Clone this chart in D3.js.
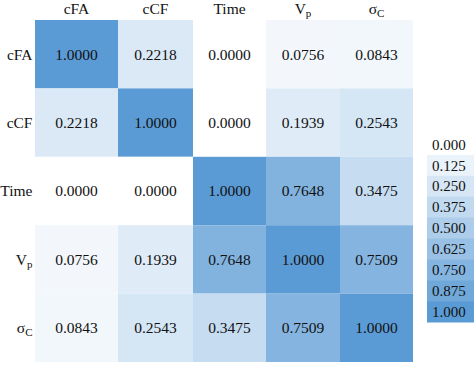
<!DOCTYPE html>
<html>
<head>
<meta charset="UTF-8">
<script src="https://d3js.org/d3.v7.min.js"></script>
<style>
    body { margin: 0; background: #fff; }
</style>
</head>
<body>
<svg id="chart" width="474" height="366" font-family="'Liberation Serif', 'Times New Roman', Times, serif"></svg>
<script>
    // variables and correlation matrix
    const vars = ["cFA", "cCF", "Time", "Vp", "sC"];
    const labelMain = { cFA: "cFA", cCF: "cCF", Time: "Time", Vp: "V", sC: "σ" };
    const labelSub = { cFA: "", cCF: "", Time: "", Vp: "p", sC: "C" };
    const matrix = [
        [1.0000, 0.2218, 0.0000, 0.0756, 0.0843],
        [0.2218, 1.0000, 0.0000, 0.1939, 0.2543],
        [0.0000, 0.0000, 1.0000, 0.7648, 0.3475],
        [0.0756, 0.1939, 0.7648, 1.0000, 0.7509],
        [0.0843, 0.2543, 0.3475, 0.7509, 1.0000]
    ];
    const legendSteps = [0, 0.125, 0.25, 0.375, 0.5, 0.625, 0.75, 0.875, 1.0];

    const svg = d3.select("#chart");

    // column edges are not quite equal in the original (first column wider)
    const colEdges = [35, 118, 193, 266, 340, 413];
    const xStart = d3.scaleOrdinal().domain(vars).range(colEdges.slice(0, 5));
    const xEnd = d3.scaleOrdinal().domain(vars).range(colEdges.slice(1));
    const y = d3.scaleBand().domain(vars).range([20, 362]);

    const color = d3.scaleLinear().domain([0, 1]).range(["#ffffff", "#5b9bd5"]);

    const cells = [];
    matrix.forEach((row, i) => row.forEach((v, j) => cells.push({ r: vars[i], c: vars[j], v })));

    svg.selectAll("rect.cell")
        .data(cells)
        .enter().append("rect")
        .attr("class", "cell")
        .attr("x", d => xStart(d.c))
        .attr("y", d => y(d.r))
        .attr("width", d => xEnd(d.c) - xStart(d.c))
        .attr("height", y.bandwidth())
        .attr("fill", d => color(d.v));

    svg.selectAll("text.val")
        .data(cells)
        .enter().append("text")
        .attr("class", "val")
        .attr("x", d => (xStart(d.c) + xEnd(d.c)) / 2)
        .attr("y", d => y(d.r) + y.bandwidth() / 2)
        .attr("dy", "0.35em")
        .attr("text-anchor", "middle")
        .attr("font-size", 15.5)
        .attr("fill", "#111")
        .text(d => d.v.toFixed(4));

    function addLabel(sel, key) {
        sel.append("tspan").text(labelMain[key]);
        if (labelSub[key]) {
            sel.append("tspan")
                .attr("baseline-shift", "-25%")
                .attr("font-size", 11)
                .text(labelSub[key]);
        }
    }

    // column headers
    vars.forEach(k => {
        const t = svg.append("text")
            .attr("x", (xStart(k) + xEnd(k)) / 2)
            .attr("y", 14)
            .attr("text-anchor", "middle")
            .attr("font-size", 15.5)
            .attr("fill", "#111");
        addLabel(t, k);
    });

    // row headers
    vars.forEach(k => {
        const t = svg.append("text")
            .attr("x", 32.5)
            .attr("y", y(k) + y.bandwidth() / 2)
            .attr("dy", "0.35em")
            .attr("text-anchor", "end")
            .attr("font-size", 15.5)
            .attr("fill", "#111");
        addLabel(t, k);
    });

    // stepped legend
    const ly = d3.scaleBand().domain(legendSteps).range([134, 322]);
    const legend = svg.append("g");
    legend.selectAll("rect")
        .data(legendSteps)
        .enter().append("rect")
        .attr("x", 427)
        .attr("y", d => ly(d))
        .attr("width", 47)
        .attr("height", ly.bandwidth() + 0.5)
        .attr("fill", d => color(d));
    legend.selectAll("text")
        .data(legendSteps)
        .enter().append("text")
        .attr("x", 432)
        .attr("y", d => ly(d) + ly.bandwidth() / 2)
        .attr("dy", "0.35em")
        .attr("font-size", 15)
        .attr("fill", "#111")
        .text(d => d.toFixed(3));
</script>
</body>
</html>
